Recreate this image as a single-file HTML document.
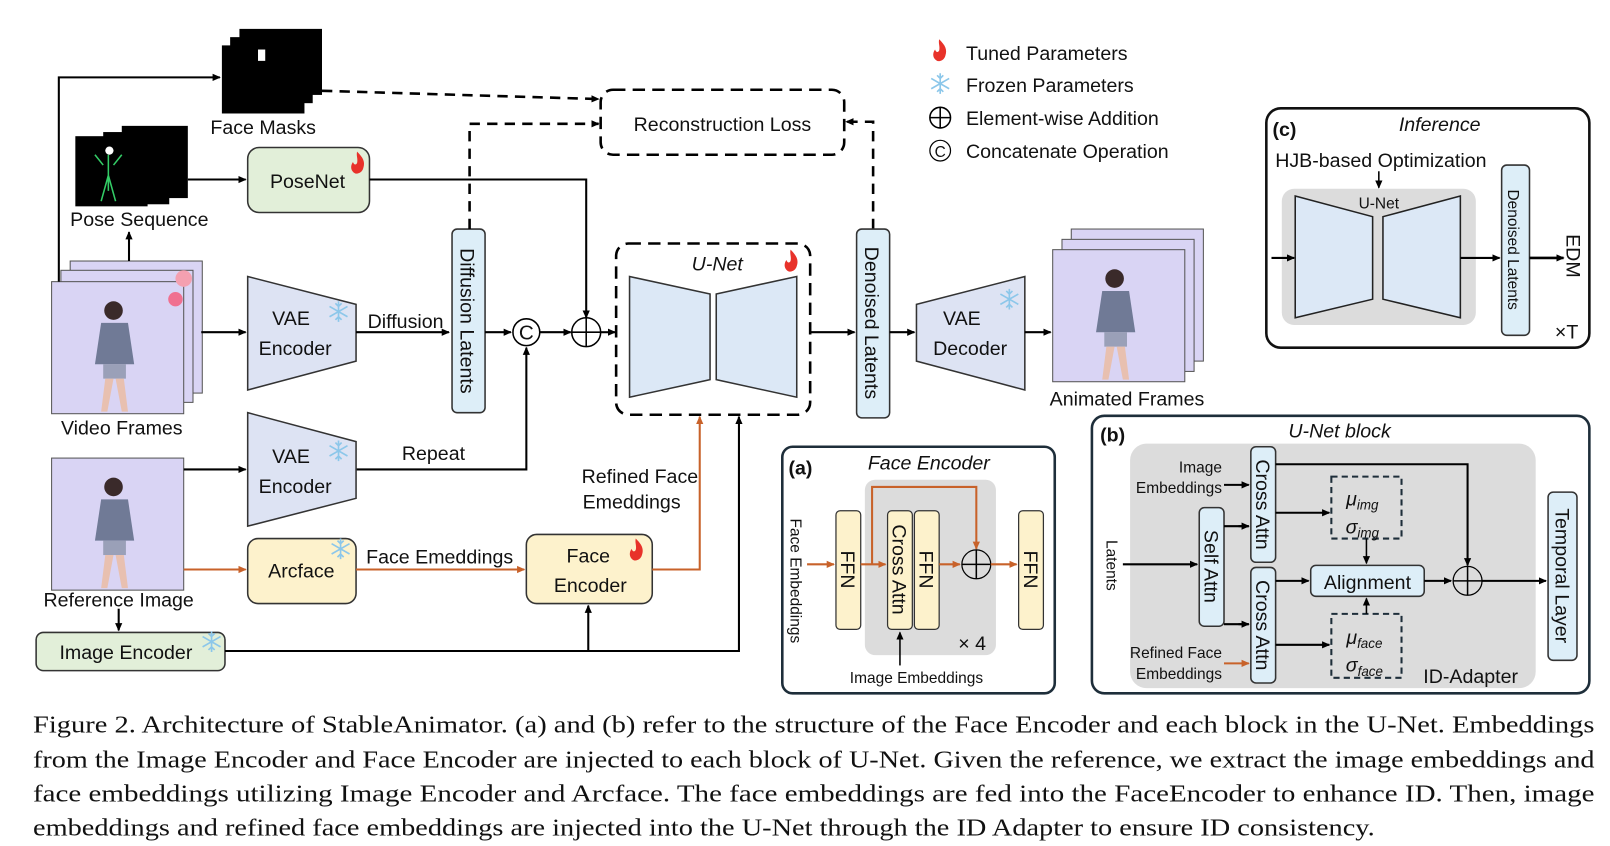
<!DOCTYPE html>
<html><head><meta charset="utf-8"><style>
html,body{margin:0;padding:0;background:#fff;width:1610px;height:846px;overflow:hidden}
svg{display:block}
text{font-family:"Liberation Sans",sans-serif;fill:#111}
.s{font-size:19px}
.xs{font-size:15px}
.cap{font-family:"Liberation Serif",serif;font-size:23.5px}
</style></head><body>
<svg width="1610" height="846" viewBox="0 0 1560 820" preserveAspectRatio="none" xmlns="http://www.w3.org/2000/svg">
<defs>
<marker id="a" markerWidth="8" markerHeight="8" refX="7" refY="4" orient="auto" markerUnits="userSpaceOnUse"><path d="M0,0.5 L8,4 L0,7.5z" fill="#000"/></marker>
<marker id="o" markerWidth="8" markerHeight="8" refX="7" refY="4" orient="auto" markerUnits="userSpaceOnUse"><path d="M0,0.5 L8,4 L0,7.5z" fill="#c8622a"/></marker>
<g id="photo"><rect width="128" height="128" fill="#d9d4f4" stroke="#555" stroke-width="1"/><circle cx="60" cy="28" r="9" fill="#3a2a2a"/><path d="M48,40 h26 l6,40 h-38z" fill="#707a96"/><rect x="50" y="80" width="22" height="14" fill="#9aa0b8"/><path d="M52,94 l-4,32 h6 l6,-32 M70,94 l4,32 h-6 l-6,-32" fill="#e8c0b0"/></g>
<g id="flame"><path d="M6,0 C12,6 14,10 12,16 C11,20 7,22 4,21 C0,19 -1,14 2,10 C3,13 5,13 6,11 C7,7 5,4 6,0z" fill="#e8322a"/></g>
<g id="snow" stroke="#8cc7ea" stroke-width="1.6" fill="none"><path d="M0,-10 V10 M-8.7,-5 L8.7,5 M-8.7,5 L8.7,-5 M-3,-8 L0,-5 L3,-8 M-3,8 L0,5 L3,8"/></g>
</defs>

<!-- Face masks -->
<rect x="232" y="28" width="80" height="64" fill="#000"/>
<rect x="223" y="36" width="80" height="64" fill="#000"/>
<rect x="215" y="44" width="80" height="66" fill="#000"/>
<rect x="250" y="48" width="7" height="11" fill="#fff"/>
<text x="255" y="130" class="s" text-anchor="middle">Face Masks</text>
<!-- Pose -->
<rect x="118" y="122" width="64" height="70" fill="#000"/>
<rect x="100" y="128" width="64" height="70" fill="#000"/>
<rect x="73" y="132" width="70" height="68" fill="#000"/>
<path d="M105,150 V185 M100,160 L92,150 M110,160 L118,150 M105,170 L98,195 M105,170 L112,195" stroke="#3c6" stroke-width="1.5"/>
<circle cx="106" cy="146" r="4" fill="#fff"/>
<text x="135" y="219" class="s" text-anchor="middle">Pose Sequence</text>
<!-- Video frames -->
<use href="#photo" x="68" y="253" transform="translate(0,0)"/>
<use href="#photo" x="59" y="262"/>
<use href="#photo" x="50" y="273"/>
<circle cx="178" cy="270" r="8" fill="#f4a0b0"/><circle cx="170" cy="290" r="7" fill="#f07090"/>
<text x="118" y="421" class="s" text-anchor="middle">Video Frames</text>
<path d="M57,273 V75 H213" fill="none" stroke="#000" stroke-width="2" marker-end="url(#a)"/>
<path d="M125,253 V225" fill="none" stroke="#000" stroke-width="2" marker-end="url(#a)"/>

<!-- PoseNet -->
<rect x="240" y="143" width="118" height="63" rx="11" fill="#e2efd9" stroke="#333" stroke-width="1.5"/>
<text x="298" y="182" class="s" font-size="21" text-anchor="middle">PoseNet</text>
<use href="#flame" x="340" y="147"/>
<path d="M182,174 H238" stroke="#000" stroke-width="2" marker-end="url(#a)"/>
<path d="M358,174 H568 V308" fill="none" stroke="#000" stroke-width="2" marker-end="url(#a)"/>

<!-- VAE Encoder 1 -->
<path d="M240,268 L345,295 L345,350 L240,378z" fill="#dde3f3" stroke="#333" stroke-width="1.5"/>
<text x="282" y="315" class="s" font-size="21" text-anchor="middle">VAE</text>
<text x="286" y="344" class="s" font-size="21" text-anchor="middle">Encoder</text>
<use href="#snow" x="328" y="302"/>
<path d="M195,322 H238" stroke="#000" stroke-width="2" marker-end="url(#a)"/>
<text x="393" y="318" class="s" font-size="18" text-anchor="middle">Diffusion</text>
<path d="M345,322 H435" stroke="#000" stroke-width="2" marker-end="url(#a)"/>
<!-- Diffusion latents -->
<rect x="438" y="222" width="32" height="178" rx="5" fill="#ddeef8" stroke="#333" stroke-width="1.5"/>
<text transform="translate(446,311) rotate(90)" class="s" text-anchor="middle">Diffusion Latents</text>
<path d="M455,222 V120 H580" fill="none" stroke="#000" stroke-width="2.5" stroke-dasharray="10,7" marker-end="url(#a)"/>
<path d="M312,88 L580,96" fill="none" stroke="#000" stroke-width="2.5" stroke-dasharray="10,7" marker-end="url(#a)"/>
<!-- C and plus -->
<path d="M470,322 H495" stroke="#000" stroke-width="2" marker-end="url(#a)"/>
<circle cx="510" cy="322" r="13" fill="#fff" stroke="#000" stroke-width="1.5"/>
<text x="510" y="329" font-size="20" text-anchor="middle">C</text>
<path d="M523,322 H553" stroke="#000" stroke-width="2" marker-end="url(#a)"/>
<circle cx="568" cy="322" r="14" fill="#fff" stroke="#000" stroke-width="1.5"/>
<path d="M554,322 H582 M568,308 V336" stroke="#000" stroke-width="1.5"/>
<path d="M582,322 H596" stroke="#000" stroke-width="2" marker-end="url(#a)"/>
<!-- Repeat -->
<path d="M345,455 H510 V337" fill="none" stroke="#000" stroke-width="2" marker-end="url(#a)"/>
<text x="420" y="446" class="s" font-size="18" text-anchor="middle">Repeat</text>

<!-- Recon loss -->
<rect x="582" y="87" width="236" height="63" rx="12" fill="#fff" stroke="#000" stroke-width="2.5" stroke-dasharray="12,7"/>
<text x="700" y="127" class="s" font-size="21" text-anchor="middle">Reconstruction Loss</text>
<path d="M846,222 V118 H820" fill="none" stroke="#000" stroke-width="2.5" stroke-dasharray="10,7" marker-end="url(#a)"/>

<!-- U-Net -->
<rect x="597" y="236" width="188" height="166" rx="12" fill="#fff" stroke="#000" stroke-width="2.5" stroke-dasharray="12,7"/>
<text x="695" y="262" class="s" font-size="21" font-style="italic" text-anchor="middle">U-Net</text>
<use href="#flame" x="760" y="242"/>
<path d="M610,268 L688,285 L688,368 L610,385z" fill="#dce8f6" stroke="#333" stroke-width="1.5"/>
<path d="M772,268 L694,285 L694,368 L772,385z" fill="#dce8f6" stroke="#333" stroke-width="1.5"/>
<path d="M785,322 H828" stroke="#000" stroke-width="2" marker-end="url(#a)"/>
<!-- Denoised -->
<rect x="830" y="222" width="32" height="183" rx="5" fill="#ddeef8" stroke="#333" stroke-width="1.5"/>
<text transform="translate(838,313) rotate(90)" class="s" text-anchor="middle">Denoised Latents</text>
<path d="M862,322 H886" stroke="#000" stroke-width="2" marker-end="url(#a)"/>
<!-- VAE Decoder -->
<path d="M888,295 L993,268 L993,378 L888,350z" fill="#dde3f3" stroke="#333" stroke-width="1.5"/>
<text x="932" y="315" class="s" font-size="21" text-anchor="middle">VAE</text>
<text x="940" y="344" class="s" font-size="21" text-anchor="middle">Decoder</text>
<use href="#snow" x="978" y="290"/>
<path d="M993,322 H1018" stroke="#000" stroke-width="2" marker-end="url(#a)"/>
<use href="#photo" x="1038" y="222"/>
<use href="#photo" x="1029" y="232"/>
<use href="#photo" x="1020" y="242"/>
<text x="1092" y="393" class="s" text-anchor="middle">Animated Frames</text>

<!-- VAE Encoder 2 -->
<path d="M240,400 L345,428 L345,483 L240,510z" fill="#dde3f3" stroke="#333" stroke-width="1.5"/>
<text x="282" y="449" class="s" font-size="21" text-anchor="middle">VAE</text>
<text x="286" y="478" class="s" font-size="21" text-anchor="middle">Encoder</text>
<use href="#snow" x="328" y="437"/>
<!-- Reference image -->
<use href="#photo" x="50" y="444"/>
<text x="115" y="588" class="s" text-anchor="middle">Reference Image</text>
<path d="M178,455 H238" stroke="#000" stroke-width="2" marker-end="url(#a)"/>
<!-- Arcface -->
<rect x="240" y="522" width="105" height="63" rx="10" fill="#fdf2cc" stroke="#333" stroke-width="1.5"/>
<text x="292" y="560" class="s" font-size="21" text-anchor="middle">Arcface</text>
<use href="#snow" x="330" y="532"/>
<path d="M178,552 H238" stroke="#c8622a" stroke-width="2" marker-end="url(#o)"/>
<path d="M345,552 H508" stroke="#c8622a" stroke-width="2" marker-end="url(#o)"/>
<text x="426" y="546" class="s" font-size="18" text-anchor="middle">Face Emeddings</text>
<!-- Face Encoder -->
<rect x="510" y="518" width="122" height="67" rx="10" fill="#fdf2cc" stroke="#333" stroke-width="1.5"/>
<text x="570" y="545" class="s" font-size="21" text-anchor="middle">Face</text>
<text x="572" y="574" class="s" font-size="21" text-anchor="middle">Encoder</text>
<use href="#flame" x="610" y="522"/>
<path d="M632,552 H678 V404" fill="none" stroke="#c8622a" stroke-width="2" marker-end="url(#o)"/>
<text x="620" y="468" class="s" font-size="18" text-anchor="middle">Refined Face</text>
<text x="612" y="493" class="s" font-size="18" text-anchor="middle">Emeddings</text>
<!-- Image Encoder -->
<path d="M115,590 V611" stroke="#000" stroke-width="2" marker-end="url(#a)"/>
<rect x="35" y="613" width="183" height="37" rx="7" fill="#e2efd9" stroke="#333" stroke-width="1.5"/>
<text x="122" y="639" class="s" font-size="21" text-anchor="middle">Image Encoder</text>
<use href="#snow" x="205" y="622"/>
<path d="M218,631 H716 V404" fill="none" stroke="#000" stroke-width="2"/>
<path d="M716,410 V404" stroke="#000" stroke-width="2" marker-end="url(#a)"/>
<path d="M570,631 V587" stroke="#000" stroke-width="2" marker-end="url(#a)"/>

<!-- Legend -->
<use href="#flame" x="904" y="38"/>
<text x="936" y="58" class="s">Tuned Parameters</text>
<use href="#snow" x="911" y="81"/>
<text x="936" y="89" class="s">Frozen Parameters</text>
<circle cx="911" cy="114" r="10" fill="none" stroke="#000" stroke-width="1.5"/><path d="M901,114 H921 M911,104 V124" stroke="#000" stroke-width="1.5"/>
<text x="936" y="121" class="s">Element-wise Addition</text>
<circle cx="911" cy="146" r="10" fill="none" stroke="#000" stroke-width="1.2"/><text x="911" y="152" font-size="15" text-anchor="middle">C</text>
<text x="936" y="153" class="s">Concatenate Operation</text>

<!-- (c) -->
<rect x="1227" y="105" width="313" height="232" rx="14" fill="#fff" stroke="#111" stroke-width="2.5"/>
<text x="1233" y="132" class="s" font-weight="bold">(c)</text>
<text x="1395" y="127" class="s" font-size="21" font-style="italic" text-anchor="middle">Inference</text>
<text x="1338" y="162" class="s" text-anchor="middle">HJB-based Optimization</text>
<path d="M1336,166 V182" stroke="#000" stroke-width="1.5" marker-end="url(#a)"/>
<rect x="1242" y="183" width="188" height="132" rx="12" fill="#dcdcdc"/>
<text x="1336" y="202" class="xs" font-size="17" text-anchor="middle">U-Net</text>
<path d="M1255,190 L1330,210 L1330,290 L1255,308z" fill="#dce8f6" stroke="#222" stroke-width="1.5"/>
<path d="M1415,190 L1340,210 L1340,290 L1415,308z" fill="#dce8f6" stroke="#222" stroke-width="1.5"/>
<path d="M1232,250 H1254" stroke="#000" stroke-width="2" marker-end="url(#a)"/>
<path d="M1415,250 H1453" stroke="#000" stroke-width="2" marker-end="url(#a)"/>
<rect x="1455" y="160" width="27" height="165" rx="5" fill="#ddeef8" stroke="#333" stroke-width="1.5"/>
<text transform="translate(1461,242) rotate(90)" class="xs" font-size="18" text-anchor="middle">Denoised Latents</text>
<path d="M1482,250 H1515" stroke="#000" stroke-width="2.5" marker-end="url(#a)"/>
<text transform="translate(1518,248) rotate(90)" class="s" font-size="21" text-anchor="middle">EDM</text>
<text x="1518" y="328" class="s" text-anchor="middle">×T</text>

<!-- (a) -->
<rect x="758" y="433" width="264" height="239" rx="10" fill="#fff" stroke="#1e2e3a" stroke-width="2.5"/>
<text x="764" y="460" class="s" font-weight="bold">(a)</text>
<text x="900" y="455" class="s" font-size="21" font-style="italic" text-anchor="middle">Face Encoder</text>
<rect x="838" y="465" width="127" height="170" rx="10" fill="#dcdcdc"/>
<text transform="translate(766,563) rotate(90)" class="xs" text-anchor="middle">Face Embeddings</text>
<path d="M782,547 H808" stroke="#c8622a" stroke-width="2" marker-end="url(#o)"/>
<rect x="810" y="495" width="24" height="115" rx="4" fill="#fdf2cc" stroke="#333" stroke-width="1.2"/>
<text transform="translate(815,552) rotate(90)" class="s" text-anchor="middle">FFN</text>
<path d="M834,547 H858" stroke="#c8622a" stroke-width="2" marker-end="url(#o)"/>
<path d="M845,547 V472 H946 V532" fill="none" stroke="#c8622a" stroke-width="2" marker-end="url(#o)"/>
<rect x="860" y="495" width="24" height="115" rx="4" fill="#fdf2cc" stroke="#333" stroke-width="1.2"/>
<text transform="translate(865,552) rotate(90)" class="s" text-anchor="middle">Cross Attn</text>
<rect x="886" y="495" width="24" height="115" rx="4" fill="#fdf2cc" stroke="#333" stroke-width="1.2"/>
<text transform="translate(891,552) rotate(90)" class="s" text-anchor="middle">FFN</text>
<path d="M910,547 H930" stroke="#c8622a" stroke-width="2" marker-end="url(#o)"/>
<circle cx="946" cy="547" r="14" fill="none" stroke="#000" stroke-width="1.2"/><path d="M932,547 H960 M946,533 V561" stroke="#000" stroke-width="1.5"/>
<path d="M960,547 H985" stroke="#c8622a" stroke-width="2" marker-end="url(#o)"/>
<rect x="987" y="495" width="24" height="115" rx="4" fill="#fdf2cc" stroke="#333" stroke-width="1.2"/>
<text transform="translate(992,552) rotate(90)" class="s" text-anchor="middle">FFN</text>
<text x="942" y="630" class="s" text-anchor="middle">× 4</text>
<path d="M872,645 V613" stroke="#000" stroke-width="1.5" marker-end="url(#a)"/>
<text x="888" y="662" class="xs" font-size="16" text-anchor="middle">Image Embeddings</text>

<!-- (b) -->
<rect x="1058" y="403" width="482" height="269" rx="12" fill="#fff" stroke="#1e2e3a" stroke-width="2.5"/>
<text x="1066" y="428" class="s" font-weight="bold">(b)</text>
<text x="1298" y="424" class="s" font-size="21" font-style="italic" text-anchor="middle">U-Net block</text>
<rect x="1095" y="430" width="393" height="237" rx="16" fill="#dcdcdc"/>
<text x="1184" y="458" class="xs" text-anchor="end">Image</text>
<text x="1184" y="478" class="xs" text-anchor="end">Embeddings</text>
<path d="M1186,470 H1210" stroke="#000" stroke-width="2" marker-end="url(#a)"/>
<text transform="translate(1072,548) rotate(90)" class="xs" font-size="16" text-anchor="middle">Latents</text>
<path d="M1088,547 H1160" stroke="#000" stroke-width="2" marker-end="url(#a)"/>
<rect x="1162" y="492" width="24" height="115" rx="5" fill="#ddeef8" stroke="#333" stroke-width="1.5"/>
<text transform="translate(1167,549) rotate(90)" class="s" text-anchor="middle">Self Attn</text>
<path d="M1186,510 H1210 M1186,605 H1210" stroke="#000" stroke-width="2"/>
<path d="M1200,510 H1210" stroke="#000" stroke-width="2" marker-end="url(#a)"/>
<path d="M1200,605 H1210" stroke="#000" stroke-width="2" marker-end="url(#a)"/>
<rect x="1212" y="433" width="24" height="112" rx="5" fill="#ddeef8" stroke="#333" stroke-width="1.5"/>
<text transform="translate(1217,489) rotate(90)" class="s" text-anchor="middle">Cross Attn</text>
<rect x="1212" y="550" width="24" height="112" rx="5" fill="#ddeef8" stroke="#333" stroke-width="1.5"/>
<text transform="translate(1217,606) rotate(90)" class="s" text-anchor="middle">Cross Attn</text>
<text x="1184" y="638" class="xs" text-anchor="end">Refined Face</text>
<text x="1184" y="658" class="xs" text-anchor="end">Embeddings</text>
<path d="M1186,643 H1210" stroke="#c8622a" stroke-width="2" marker-end="url(#o)"/>
<path d="M1236,450 H1422 V548" fill="none" stroke="#000" stroke-width="2" marker-end="url(#a)"/>
<path d="M1236,497 H1288" stroke="#000" stroke-width="2" marker-end="url(#a)"/>
<path d="M1236,625 H1288" stroke="#000" stroke-width="2" marker-end="url(#a)"/>
<path d="M1236,563 H1268" stroke="#000" stroke-width="2" marker-end="url(#a)"/>
<rect x="1290" y="462" width="68" height="60" fill="none" stroke="#1e2e3a" stroke-width="2" stroke-dasharray="6,4"/>
<text x="1320" y="490" class="s" font-style="italic" text-anchor="middle">μ<tspan font-size="13" dy="4">img</tspan></text>
<text x="1320" y="517" class="s" font-style="italic" text-anchor="middle">σ<tspan font-size="13" dy="4">img</tspan></text>
<rect x="1290" y="595" width="68" height="62" fill="none" stroke="#1e2e3a" stroke-width="2" stroke-dasharray="6,4"/>
<text x="1322" y="624" class="s" font-style="italic" text-anchor="middle">μ<tspan font-size="13" dy="4">face</tspan></text>
<text x="1322" y="651" class="s" font-style="italic" text-anchor="middle">σ<tspan font-size="13" dy="4">face</tspan></text>
<path d="M1324,522 V546" stroke="#000" stroke-width="1.5" marker-end="url(#a)"/>
<path d="M1324,595 V580" stroke="#000" stroke-width="1.5" marker-end="url(#a)"/>
<rect x="1270" y="548" width="110" height="30" rx="5" fill="#ddeef8" stroke="#333" stroke-width="1.5"/>
<text x="1325" y="571" class="s" font-size="21" text-anchor="middle">Alignment</text>
<path d="M1380,563 H1406" stroke="#000" stroke-width="2" marker-end="url(#a)"/>
<circle cx="1422" cy="563" r="14" fill="none" stroke="#000" stroke-width="1.2"/><path d="M1408,563 H1436 M1422,549 V577" stroke="#000" stroke-width="1.5"/>
<path d="M1436,563 H1498" stroke="#000" stroke-width="2" marker-end="url(#a)"/>
<rect x="1500" y="477" width="28" height="163" rx="5" fill="#ddeef8" stroke="#333" stroke-width="1.5"/>
<text transform="translate(1507,558) rotate(90)" class="s" font-size="21" text-anchor="middle">Temporal Layer</text>
<text x="1425" y="662" class="s" font-size="21" text-anchor="middle">ID-Adapter</text>

<!-- Caption -->
<text x="32" y="710" class="cap" textLength="1513" lengthAdjust="spacingAndGlyphs">Figure 2. Architecture of StableAnimator. (a) and (b) refer to the structure of the Face Encoder and each block in the U-Net. Embeddings</text>
<text x="32" y="744" class="cap" textLength="1513" lengthAdjust="spacingAndGlyphs">from the Image Encoder and Face Encoder are injected to each block of U-Net. Given the reference, we extract the image embeddings and</text>
<text x="32" y="777" class="cap" textLength="1513" lengthAdjust="spacingAndGlyphs">face embeddings utilizing Image Encoder and Arcface. The face embeddings are fed into the FaceEncoder to enhance ID. Then, image</text>
<text x="32" y="810" class="cap" textLength="1300" lengthAdjust="spacingAndGlyphs">embeddings and refined face embeddings are injected into the U-Net through the ID Adapter to ensure ID consistency.</text>
</svg>
</body></html>
